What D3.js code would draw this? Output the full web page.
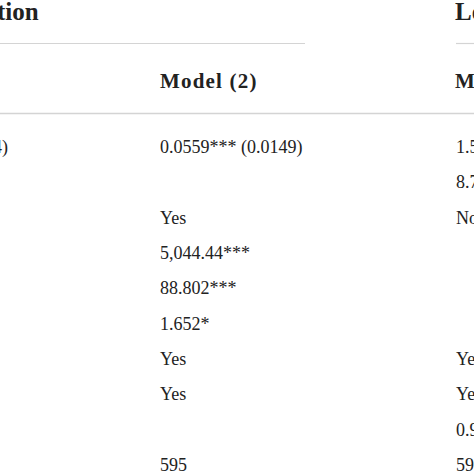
<!DOCTYPE html>
<html><head><meta charset="utf-8">
<script src="https://cdn.jsdelivr.net/npm/d3@7"></script>
<style>body{margin:0;background:#fff}svg{display:block}</style>
</head><body>
<script>
var rowIds = ["r1","r2","r3","r4","r5","r6","r7","r8","r9","r10"];
var col1 = ["4)","","","","","","","","",""];
var col2 = ["0.0559*** (0.0149)","","Yes","5,044.44***","88.802***","1.652*","Yes","Yes","","595"];
var col3 = ["1.5","8.7","No","","","","Yes","Yes","0.9","59"];

var W = 474, H = 474;
var svg = d3.select("body").append("svg").attr("width", W).attr("height", H);
var font = "'Liberation Serif', 'DejaVu Serif', serif";
var ink = "#222";

// group headers
svg.append("text").attr("x", -3).attr("y", 20).text("tion")
  .attr("font-family", font).attr("font-weight", "bold").attr("font-size", 25).attr("fill", ink);
svg.append("text").attr("x", 455).attr("y", 20).text("Lo")
  .attr("font-family", font).attr("font-weight", "bold").attr("font-size", 25).attr("fill", ink);

svg.append("line").attr("x1", 0).attr("x2", 305).attr("y1", 43.5).attr("y2", 43.5).attr("stroke", "#d4d4d4").attr("stroke-width", 1.2);
svg.append("line").attr("x1", 456).attr("x2", 474).attr("y1", 43.5).attr("y2", 43.5).attr("stroke", "#d4d4d4").attr("stroke-width", 1.2);

svg.append("text").attr("x", 160).attr("y", 88).text("Model (2)")
  .attr("font-family", font).attr("font-weight", "bold").attr("font-size", 21).attr("letter-spacing", 1.2).attr("fill", ink);
svg.append("text").attr("x", 455).attr("y", 88).text("Model")
  .attr("font-family", font).attr("font-weight", "bold").attr("font-size", 21).attr("letter-spacing", 1.2).attr("fill", ink);

svg.append("line").attr("x1", 0).attr("x2", W).attr("y1", 113.5).attr("y2", 113.5).attr("stroke", "#d4d4d4").attr("stroke-width", 1.5);

var y = d3.scalePoint().domain(rowIds).range([153, 471]);
var cols = [{x: -7, v: col1}, {x: 160, v: col2}, {x: 456, v: col3}];
cols.forEach(function(c){
  svg.append("g").selectAll("text").data(rowIds).enter().append("text")
    .attr("x", c.x).attr("y", function(d){ return y(d); })
    .text(function(d,i){ return c.v[i]; })
    .attr("font-family", font).attr("font-size", 18).attr("fill", ink);
});
</script>
</body></html>
